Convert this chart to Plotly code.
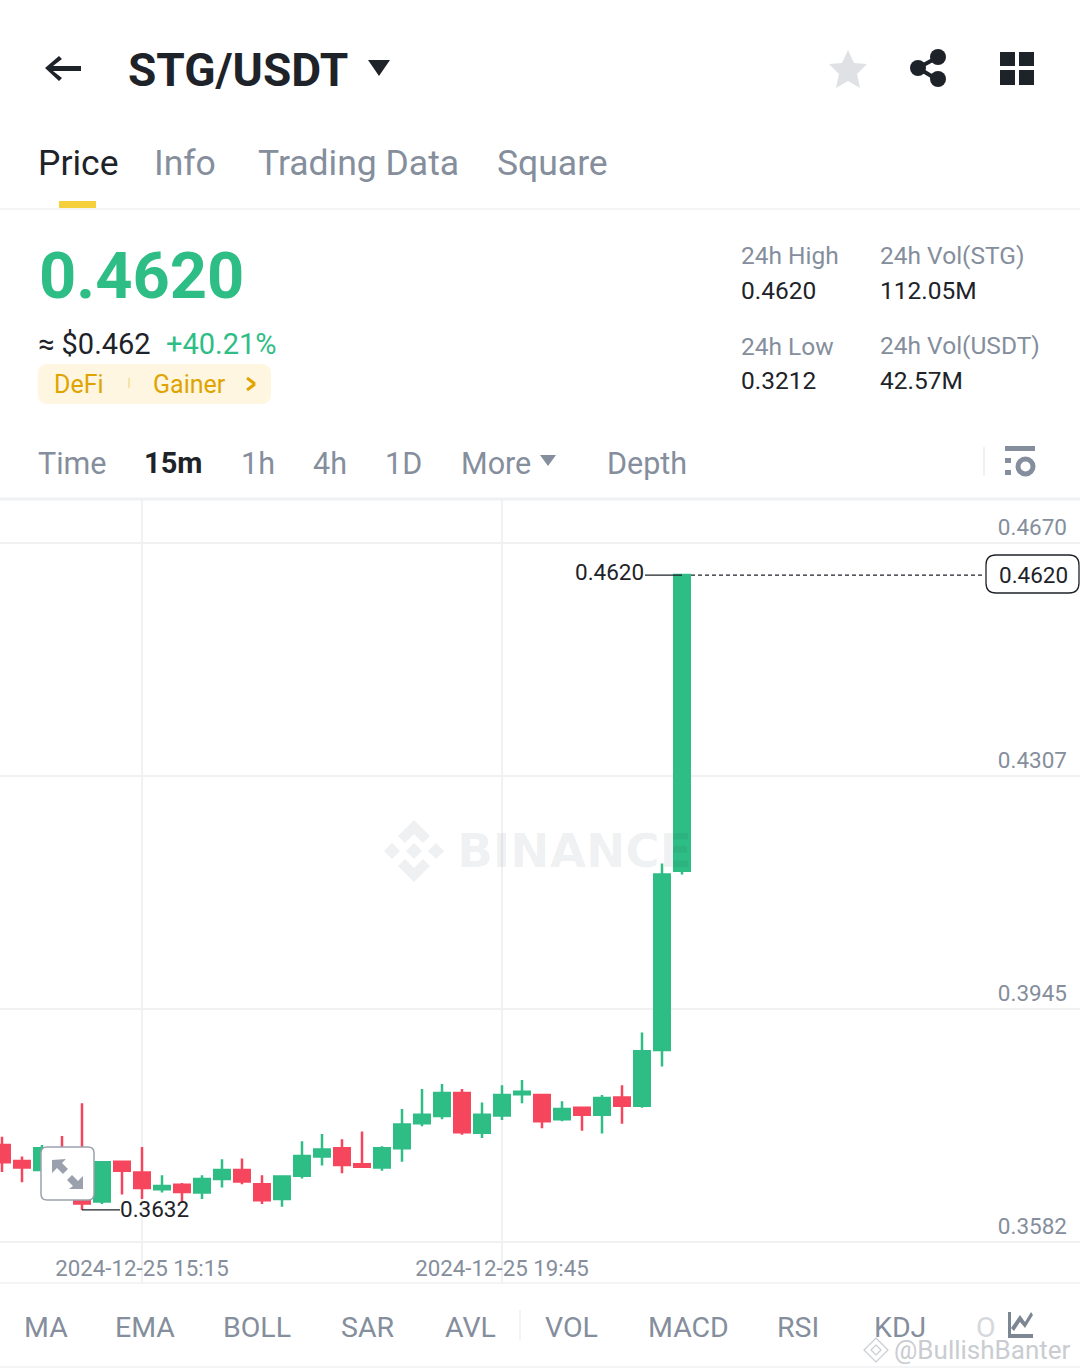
import plotly.graph_objects as go

W = 1080
H = 1372

# candles, 15m
times = ["13:30", "13:45", "14:00", "14:15", "14:30", "14:45", "15:00", "15:15", "15:30", "15:45",
         "16:00", "16:15", "16:30", "16:45", "17:00", "17:15", "17:30", "17:45", "18:00", "18:15",
         "18:30", "18:45", "19:00", "19:15", "19:30", "19:45", "20:00", "20:15", "20:30", "20:45",
         "21:00", "21:15", "21:30", "21:45", "22:00"]
opens = [.3733, .3708, .3694, .3722, .3666, .3645, .3707, .3690, .3664, .3671,
         .3659, .3680, .3694, .3672, .3649, .3685, .3715, .3728, .3703, .3698,
         .3728, .3767, .3778, .3814, .3752, .3779, .3812, .3811, .3773, .3791,
         .3780, .3807, .3794, .3881, .4160]
highs = [.3746, .3715, .3733, .3747, .3798, .3708, .3707, .3730, .3686, .3674,
         .3686, .3711, .3712, .3686, .3685, .3739, .3750, .3742, .3754, .3731,
         .3789, .3820, .3828, .3820, .3799, .3826, .3834, .3812, .3801, .3793,
         .3811, .3826, .3908, .4171, .4620]
lows = [.3691, .3675, .3691, .3660, .3632, .3641, .3656, .3649, .3659, .3645,
        .3649, .3667, .3672, .3641, .3637, .3681, .3701, .3689, .3698, .3693,
        .3707, .3762, .3773, .3749, .3744, .3772, .3798, .3759, .3770, .3755,
        .3751, .3766, .3791, .3855, .4154]
closes = [.3706, .3698, .3728, .3671, .3642, .3706, .3693, .3666, .3669, .3660,
          .3680, .3694, .3676, .3647, .3684, .3716, .3726, .3702, .3699, .3728,
          .3765, .3780, .3814, .3753, .3780, .3811, .3816, .3770, .3789, .3780,
          .3806, .3794, .3879, .4154, .4620]

price_ticks = [0.3582, 0.3945, 0.4307, 0.4670]
price_labels = ["0.3582", "0.3945", "0.4307", "0.4670"]
time_ticks = ["2024-12-25 15:15", "2024-12-25 19:45"]
last_price = 0.4620
low_price = 0.3632

tabs = [("Price", 37), ("Info", 153), ("Trading Data", 257), ("Square", 496)]
periods = [("Time", 37), ("15m", 143), ("1h", 240), ("4h", 312), ("1D", 384), ("More", 460), ("Depth", 606)]
indicators = [("MA", 23), ("EMA", 114), ("BOLL", 222), ("SAR", 340), ("AVL", 444),
              ("VOL", 544), ("MACD", 647), ("RSI", 776), ("KDJ", 873)]

DARK = "#1e2329"
GREY = "#858e9c"
LINE = "#f0f1f3"
GREEN = "#2ebd85"
RED = "#f6465d"
FONT = "Roboto"

dates = ["2024-12-25 " + t + ":00" for t in times]


def px(x):
    return x / W


def py(y):
    return 1 - y / H


def poly(points, fill, line=None, lw=0, layer="above"):
    d = "M " + " L ".join(f"{px(x):.5f},{py(y):.5f}" for x, y in points) + " Z"
    return dict(type="path", xref="paper", yref="paper", path=d, fillcolor=fill, layer=layer,
                line=dict(color=line or fill, width=lw))


def rrect(x0, y0, x1, y1, r, fill, line=None, lw=0):
    a, b = px(x0), py(y0)
    c, d = px(x1), py(y1)
    rx, ry = r / W, r / H
    p = (f"M {a+rx:.5f},{b:.5f} L {c-rx:.5f},{b:.5f} Q {c:.5f},{b:.5f} {c:.5f},{b-ry:.5f} "
         f"L {c:.5f},{d+ry:.5f} Q {c:.5f},{d:.5f} {c-rx:.5f},{d:.5f} L {a+rx:.5f},{d:.5f} "
         f"Q {a:.5f},{d:.5f} {a:.5f},{d+ry:.5f} L {a:.5f},{b-ry:.5f} Q {a:.5f},{b:.5f} {a+rx:.5f},{b:.5f} Z")
    return dict(type="path", xref="paper", yref="paper", path=p, fillcolor=fill,
                line=dict(color=line or fill, width=lw))


def seg(x0, y0, x1, y1, color, width=1, dash="solid"):
    return dict(type="line", xref="paper", yref="paper", x0=px(x0), y0=py(y0), x1=px(x1), y1=py(y1),
                line=dict(color=color, width=width, dash=dash))


def txt(x, y, s, size, color, anchor="left", bold=False, family=FONT):
    return dict(xref="paper", yref="paper", x=px(x), y=py(y), text=s, showarrow=False,
                xanchor=anchor, yanchor="middle", borderpad=0,
                font=dict(family=family, size=size, color=color, weight=700 if bold else 400))


fig = go.Figure(go.Candlestick(
    x=dates, open=opens, high=highs, low=lows, close=closes,
    increasing=dict(line=dict(color=GREEN, width=2.5), fillcolor=GREEN),
    decreasing=dict(line=dict(color=RED, width=2.5), fillcolor=RED),
    whiskerwidth=0, showlegend=False,
))

shapes = [
    seg(0, 209, W, 209, LINE, 1.5),
    seg(0, 499, W, 499, LINE, 3),
    seg(0, 1283, W, 1283, LINE, 1.5),
    seg(0, 1367, W, 1367, LINE, 1.5),
    dict(type="rect", xref="paper", yref="paper", x0=px(59), x1=px(96), y0=py(201), y1=py(208),
         fillcolor="#f5cf3c", line=dict(width=0)),
    # header icons
    poly([(45, 68), (59, 56), (62, 59), (53, 66), (81, 66), (81, 71), (53, 71), (62, 78), (59, 81)], DARK),
    poly([(368, 60), (390, 60), (379, 76)], DARK),
    poly([(848, 50), (854, 63), (867, 64), (857, 74), (860, 88), (848, 81), (836, 88), (839, 74), (829, 64), (842, 63)], "#dfe1e5"),
    seg(918, 68, 938, 57, DARK, 4),
    seg(918, 68, 938, 80, DARK, 4),
    dict(type="circle", xref="paper", yref="paper", x0=px(910), x1=px(926), y0=py(60), y1=py(76), fillcolor=DARK, line=dict(width=0)),
    dict(type="circle", xref="paper", yref="paper", x0=px(930), x1=px(946), y0=py(49), y1=py(65), fillcolor=DARK, line=dict(width=0)),
    dict(type="circle", xref="paper", yref="paper", x0=px(930), x1=px(946), y0=py(71), y1=py(87), fillcolor=DARK, line=dict(width=0)),
    poly([(1000, 52), (1015, 52), (1015, 66), (1000, 66)], DARK),
    poly([(1019, 52), (1034, 52), (1034, 66), (1019, 66)], DARK),
    poly([(1000, 70), (1015, 70), (1015, 85), (1000, 85)], DARK),
    poly([(1019, 70), (1034, 70), (1034, 85), (1019, 85)], DARK),
    # tag
    rrect(38, 364, 271, 404, 10, "#fef6e0"),
    seg(129, 378, 129, 388, "#f6e3a8", 2),
    seg(247, 378, 255, 384, "#e0a400", 3),
    seg(255, 384, 247, 390, "#e0a400", 3),
    # period bar
    poly([(540, 455), (556, 455), (548, 466)], GREY),
    seg(984, 447, 984, 476, LINE, 2),
    poly([(1005, 446), (1035, 446), (1035, 451), (1005, 451)], GREY),
    poly([(1005, 458), (1011, 458), (1011, 463), (1005, 463)], GREY),
    poly([(1005, 470), (1011, 470), (1011, 475), (1005, 475)], GREY),
    dict(type="circle", xref="paper", yref="paper", x0=px(1018), x1=px(1033), y0=py(459), y1=py(474),
         fillcolor="white", line=dict(color=GREY, width=5)),
    # watermark logo
    poly([(414, 820), (430, 836), (423, 843), (414, 834), (405, 843), (398, 836)], "#eef0f2", layer="below"),
    poly([(414, 882), (430, 866), (423, 859), (414, 868), (405, 859), (398, 866)], "#eef0f2", layer="below"),
    poly([(414, 843), (422, 851), (414, 859), (406, 851)], "#eef0f2", layer="below"),
    poly([(392, 843), (400, 851), (392, 859), (384, 851)], "#eef0f2", layer="below"),
    poly([(436, 843), (444, 851), (436, 859), (428, 851)], "#eef0f2", layer="below"),
    # last price line and low marker, anchored on the price axis
    dict(type="line", xref="paper", yref="y", x0=px(691), x1=px(985), y0=last_price, y1=last_price,
         line=dict(color=DARK, width=1.2, dash="4px,3px")),
    dict(type="line", xref="paper", yref="y", x0=px(645), x1=px(682), y0=last_price, y1=last_price,
         line=dict(color=DARK, width=1.2)),
    dict(type="line", xref="paper", yref="y", x0=px(82), x1=px(120), y0=low_price, y1=low_price,
         line=dict(color=DARK, width=1.2)),
    rrect(986, 555, 1079, 593, 10, "white", DARK, 1.3),
    # expand button
    rrect(41, 1147, 94, 1200, 6, "white", "#9aa1ad", 1.5),
    poly([(52, 1160), (52, 1173), (57, 1168), (63, 1174), (68, 1169), (62, 1163), (66, 1159)], "#9aa1ad"),
    poly([(83, 1189), (83, 1176), (78, 1181), (72, 1175), (67, 1180), (73, 1186), (69, 1189)], "#9aa1ad"),
    # indicator bar
    seg(520, 1310, 520, 1340, LINE, 1.5),
    poly([(1008, 1312), (1011, 1312), (1011, 1334), (1033, 1334), (1033, 1338), (1008, 1338)], "#7d8693"),
    poly([(1011, 1328), (1020, 1315), (1025, 1322), (1031, 1312), (1033, 1315), (1025, 1328), (1020, 1322), (1014, 1331)], "#7d8693"),
    # post watermark
    poly([(876, 1338), (888, 1350), (876, 1362), (864, 1350)], "rgba(0,0,0,0)", "#c9ccd1", 1.2),
    poly([(876, 1345), (881, 1350), (876, 1355), (871, 1350)], "rgba(0,0,0,0)", "#c9ccd1", 1.2),
]

annotations = [
    txt(127, 70, "STG/USDT", 46, DARK, bold=True),
    txt(38, 276, "0.4620", 65, GREEN, bold=True),
    txt(37, 344, "≈ $0.462", 29, DARK),
    txt(165, 344, "+40.21%", 29, GREEN),
    txt(53, 384, "DeFi", 25, "#e0a400"),
    txt(152, 384, "Gainer", 25, "#e0a400"),
    txt(740, 256, "24h High", 24.5, GREY),
    txt(740, 290, "0.4620", 24.5, DARK),
    txt(879, 255, "24h Vol(STG)", 24.5, GREY),
    txt(879, 290, "112.05M", 24.5, DARK),
    txt(740, 346, "24h Low", 24.5, GREY),
    txt(740, 380, "0.3212", 24.5, DARK),
    txt(879, 345, "24h Vol(USDT)", 24.5, GREY),
    txt(879, 380, "42.57M", 24.5, DARK),
    txt(456, 851, "BINANCE", 47, "rgba(30,35,60,0.07)", bold=True, family="DejaVu Sans"),
    txt(1033, 575, "0.4620", 22.5, DARK, "center"),
    txt(645, 572, "0.4620", 22.5, DARK, "right"),
    txt(119, 1209, "0.3632", 22.5, DARK),
    txt(975, 1327, "O", 28.5, "#d5d8dc"),
    txt(893, 1350, "@BullishBanter", 26, "#c9ccd1"),
]
for name, x in tabs:
    annotations.append(txt(x, 163, name, 35.5, DARK if name == "Price" else GREY))
for name, x in periods:
    annotations.append(txt(x, 463, name, 29 if name == "15m" else 30.5, DARK if name == "15m" else GREY, bold=name == "15m"))
for name, x in indicators:
    annotations.append(txt(x, 1327, name, 28.5, GREY))

fig.update_layout(
    width=W, height=H, margin=dict(l=0, r=0, t=0, b=0),
    paper_bgcolor="white", plot_bgcolor="white",
    boxgap=0.1, boxgroupgap=0.14, showlegend=False, hovermode=False,
    shapes=shapes, annotations=annotations,
    font=dict(family=FONT),
)
fig.update_xaxes(
    type="date", rangeslider_visible=False, domain=[0, 1],
    range=["2024-12-25 13:28:30", "2024-12-26 02:58:30"],
    tickmode="array", tickvals=time_ticks, ticktext=time_ticks,
    ticklabelposition="inside", ticklabelstandoff=0, ticks="",
    tickfont=dict(family=FONT, size=22.3, color=GREY),
    showgrid=True, gridcolor=LINE, gridwidth=1.5, showline=False, zeroline=False,
)
fig.update_yaxes(
    side="right", domain=[py(1283), py(500)], range=[0.35182, 0.47369],
    tickmode="array", tickvals=price_ticks, ticktext=price_labels,
    ticklabelposition="inside", ticklabelshift=-16, ticklabelstandoff=10, ticks="",
    tickfont=dict(family=FONT, size=22.5, color=GREY),
    showgrid=True, gridcolor=LINE, gridwidth=1.5, showline=False, zeroline=False,
)

fig.write_html("out.html", post_script="document.body.style.margin='0';", config=dict(displayModeBar=False))
